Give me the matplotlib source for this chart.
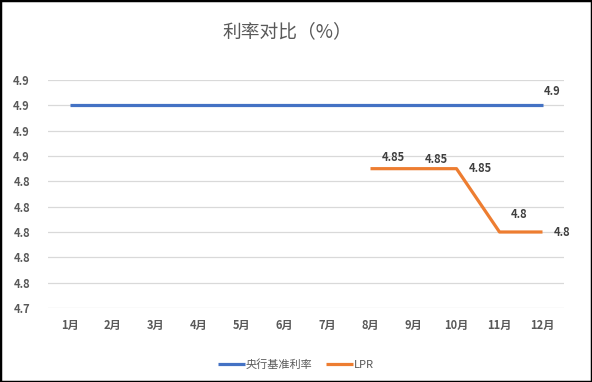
import matplotlib
matplotlib.use("Agg")
import matplotlib.pyplot as plt
from matplotlib.ticker import MultipleLocator, FormatStrFormatter
from matplotlib.patches import Rectangle
import numpy as np

plt.rcParams['font.family'] = ['Noto Sans CJK SC', 'DejaVu Sans']

months = ["1月", "2月", "3月", "4月", "5月", "6月", "7月", "8月", "9月", "10月", "11月", "12月"]
base_rate = [4.9, 4.9, 4.9, 4.9, 4.9, 4.9, 4.9, 4.9, 4.9, 4.9, 4.9, 4.9]
lpr = [np.nan, np.nan, np.nan, np.nan, np.nan, np.nan, np.nan, 4.85, 4.85, 4.85, 4.8, 4.8]
lpr_labels = ["", "", "", "", "", "", "", "4.85", "4.85", "4.85", "4.8", "4.8"]

blue = "#4472C4"
orange = "#ED7D31"
grey = "#595959"

fig = plt.figure(figsize=(5.92, 3.82), dpi=100)
ax = fig.add_axes([48 / 592, 1 - 308 / 382, 516 / 592, 228 / 382])

x = np.arange(1, 13)
ax.plot(x, base_rate, color=blue, lw=2.3, solid_capstyle="butt", label="央行基准利率", zorder=3)
ax.plot(x, lpr, color=orange, lw=2.3, solid_capstyle="butt", label="LPR", zorder=3)

ax.set_xlim(0.5, 12.5)
ax.set_ylim(4.74, 4.92)
ax.yaxis.set_major_locator(MultipleLocator(0.02))
ax.yaxis.set_major_formatter(FormatStrFormatter("%.1f"))
ax.set_xticks(x)
ax.set_xticklabels(months)
ax.grid(axis="y", color="#D9D9D9", lw=0.9)
ax.set_axisbelow(True)
for s in ax.spines.values():
    s.set_visible(False)
ax.tick_params(length=0, labelsize=8, labelcolor=grey)
ax.tick_params(axis="y", pad=13)
ax.tick_params(axis="x", pad=8)
for t in ax.get_xticklabels() + ax.get_yticklabels():
    t.set_fontweight("bold")

# data labels
lab_kw = dict(textcoords="offset pixels", ha="center", va="center",
              fontsize=8, color="#404040", fontweight="bold")
ax.annotate("4.9", (12, base_rate[11]), xytext=(10, 14), **lab_kw)
offsets = {7: (23, 11), 8: (23, 9), 9: (24, 0), 10: (20, 17), 11: (20, 0)}
for i, (xo, yo) in offsets.items():
    ax.annotate(lpr_labels[i], (x[i], lpr[i]), xytext=(xo, yo), **lab_kw)

fig.text(287 / 592, 1 - 32 / 382, "利率对比（%）", ha="center", va="center",
         fontsize=13.5, color=grey)

leg = fig.legend(loc="center", bbox_to_anchor=(296 / 592, 1 - 365 / 382), ncol=2,
                 frameon=False, fontsize=8, handlelength=2.4, columnspacing=1.2,
                 handletextpad=0.1)
for t in leg.get_texts():
    t.set_color(grey)

fig.patches.append(Rectangle((0, 0), 1, 1, transform=fig.transFigure,
                             fill=False, edgecolor="black", lw=2.5))

fig.savefig("out.png", dpi=100)
